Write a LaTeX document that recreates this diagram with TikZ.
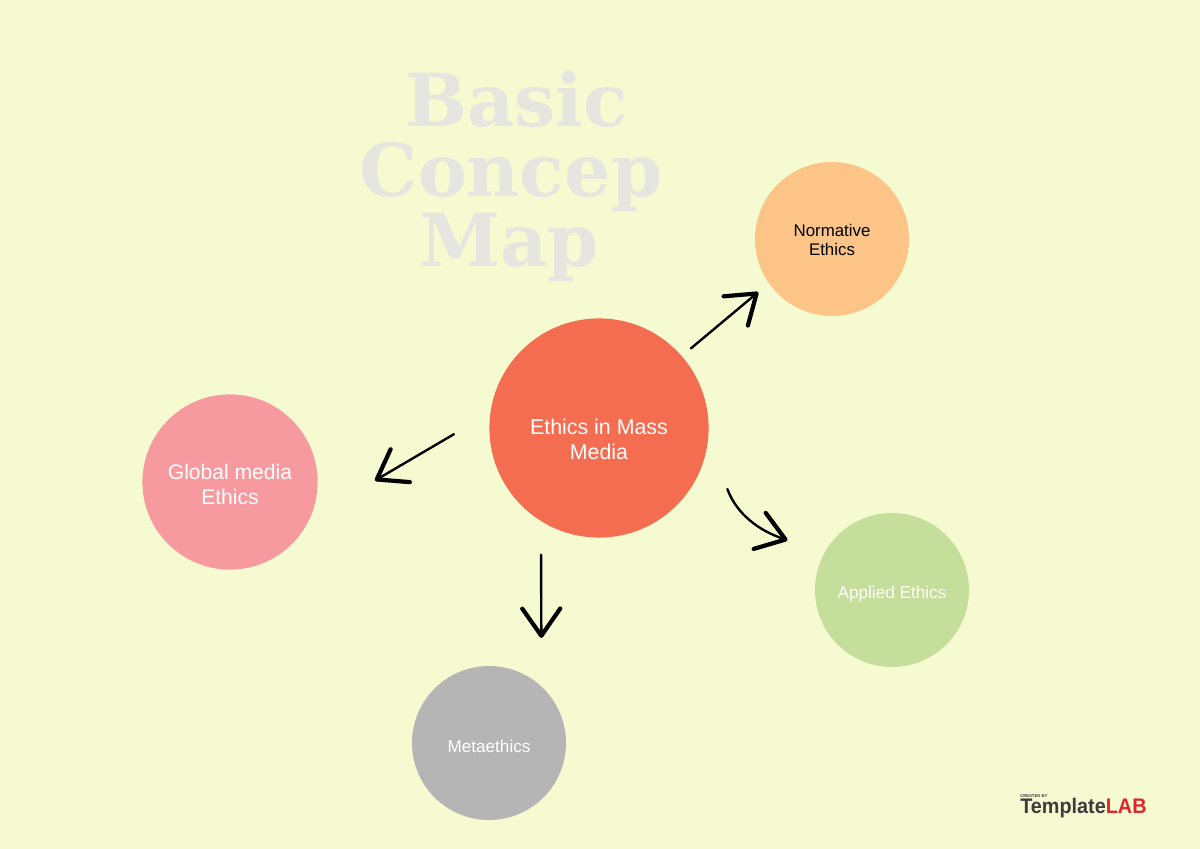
\documentclass[tikz,border=0pt]{standalone}
\usepackage{fontspec}
\setmainfont{Liberation Sans}
\newfontfamily\titlefont{DejaVu Serif}
\newfontfamily\logofont[FakeStretch=0.94]{Liberation Sans}
\usetikzlibrary{arrows.meta,positioning}
\definecolor{paper}{HTML}{F5FAD0}
\definecolor{titlegray}{HTML}{E5E6E0}
\definecolor{hubred}{HTML}{F46D50}
\definecolor{normorange}{HTML}{FCC487}
\definecolor{globalpink}{HTML}{F69AA0}
\definecolor{appliedgreen}{HTML}{C6DE9B}
\definecolor{metagray}{HTML}{B5B5B5}
\definecolor{logogray}{HTML}{3C3C3C}
\definecolor{logored}{HTML}{E0242C}
\newcommand{\dropby}[1]{\rule{0pt}{#1}}
\tikzset{>={Straight Barb[length=0.68cm,width=0.95cm,line width=3pt,round]},
    bubble/.style={circle, draw=none, outer sep=0pt, inner sep=0pt, align=center},
    pil/.style={->, line width=1.7pt, line cap=round}}

\begin{document}
\begin{tikzpicture}
            \fill[paper] (0,0) rectangle (30,21.225);
            \useasboundingbox (0,0) rectangle (30,21.225);

            \node[bubble, fill=hubred, minimum size=5.48cm, text=white, font=\fontsize{15.2}{17.7}\selectfont]
                (hub) at (14.975,10.525) {\dropby{26.6pt}Ethics in Mass\\Media};
            \node[bubble, fill=normorange, minimum size=3.85cm, font=\fontsize{12}{14}\selectfont,
                    on grid, above right=4.725cm and 5.825cm of hub]
                (normative) {\dropby{10pt}Normative\\Ethics};
            \node[bubble, fill=globalpink, minimum size=4.38cm, text=white, font=\fontsize{15}{17.7}\selectfont,
                    on grid, below left=1.35cm and 9.225cm of hub]
                (global) {\dropby{15pt}Global media\\Ethics};
            \node[bubble, fill=appliedgreen, minimum size=3.85cm, text=white, font=\fontsize{12.2}{14}\selectfont,
                    on grid, below right=4.05cm and 7.325cm of hub]
                (applied) {\dropby{14.7pt}Applied Ethics};
            \node[bubble, fill=metagray, minimum size=3.85cm, text=white, font=\fontsize{12.2}{14}\selectfont,
                    on grid, below left=7.875cm and 2.75cm of hub]
                (meta) {\dropby{13.2pt}Metaethics};

            \node[align=center, text=titlegray, font=\titlefont\bfseries\fontsize{52}{49.8}\selectfont,
                    on grid, above left=6.3cm and 2.2cm of hub]
                (title) {\hspace*{8pt}Basic\\Concep\\Map\hspace*{3pt}};

            \node[font=\logofont\bfseries\fontsize{15}{15}\selectfont, inner sep=0pt, anchor=base west]
                (logo) at (25.5,0.875) {\textcolor{logogray}{Template}\textcolor{logored}{LAB}};
            \node[font=\bfseries\fontsize{3}{3}\selectfont, text=logogray, inner sep=0pt,
                    above=0.02cm of logo.north west, anchor=south west]
                (created) {CREATED BY};

            \draw[pil, shorten <=0.3cm, shorten >=0.35cm] (hub.41) -- (normative.215);
            \draw[pil, shorten <=1.06cm, shorten >=1.9cm] (hub.172) -- (global.-25);
            \draw[pil, shorten <=0.84cm, shorten >=1.22cm] (hub.238) -- (meta.47.5);
            \draw[pil, shorten <=1.375cm, shorten >=0.98cm] (hub.-5) .. controls (18.425,8.35) and (19,7.95) .. (applied.151.8);
        \end{tikzpicture}
\end{document}
